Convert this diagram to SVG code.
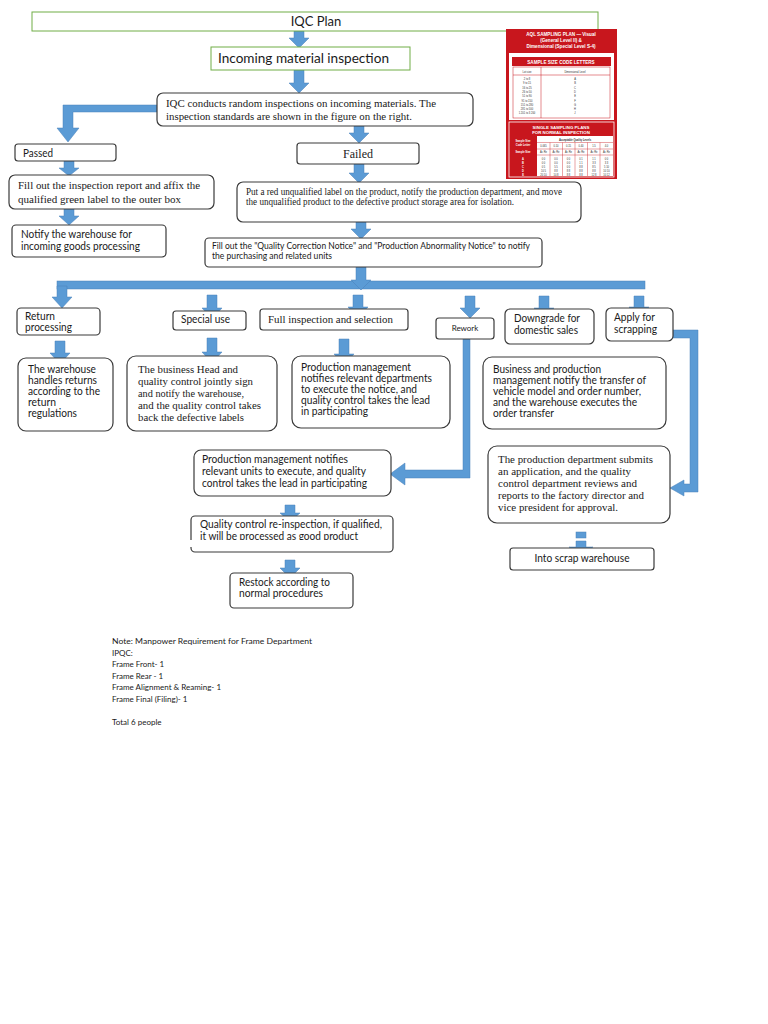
<svg xmlns="http://www.w3.org/2000/svg" width="768" height="1024" viewBox="0 0 768 1024">
<style>
.box{fill:#fff;stroke:#3a3a3a;stroke-width:1.2}
.gbox{fill:#fff;stroke:#70ad47;stroke-width:1}
.arr{fill:#5b9bd5;stroke:#4a80b8;stroke-width:0.5}
.s{font-family:Lato,"Open Sans","Liberation Sans",sans-serif;fill:#1a1a1a}
.r{font-family:"Liberation Serif",serif;fill:#1a1a1a}
.w{font-family:"Liberation Sans",Arial,sans-serif;fill:#fff;font-weight:bold;text-anchor:middle}
.t{font-family:"Liberation Sans",Arial,sans-serif;fill:#333;text-anchor:middle;font-size:2.6px}
</style>
<rect width="768" height="1024" fill="#fff"/>

<g id="connectors">
<polygon class="arr" points="294,31 304,31 304,38 309,38 299,48 289,38 294,38"/>
<polygon class="arr" points="294,70 304,70 304,83 309,83 299,93 289,83 294,83"/>
<polygon class="arr" points="157,105 63,105 63,128 57,128 68,142 79,128 73,128 73,112 157,112"/>
<polygon class="arr" points="354,126 364,126 364,133 369,133 359,143 349,133 354,133"/>
<polygon class="arr" points="64,161 74,161 74,168 79,168 69,176 59,168 64,168"/>
<polygon class="arr" points="64,209 74,209 74,216 79,216 69,225 59,216 64,216"/>
<polygon class="arr" points="354,164 364,164 364,173 369,173 359,183 349,173 354,173"/>
<polygon class="arr" points="356,222 366,222 366,229 371,229 361,239 351,229 356,229"/>
<rect class="arr" x="57" y="281" width="588" height="8"/>
<polygon class="arr" points="356,267 366,267 366,280 371,280 361,290 351,280 356,280"/>
<polygon class="arr" points="57,286 67,286 67,297 72,297 62,308 52,297 57,297"/>
<polygon class="arr" points="207,295 217,295 217,308 222,308 212,319 202,308 207,308"/>
<polygon class="arr" points="353,295 363,295 363,307 368,307 358,318 348,307 353,307"/>
<polygon class="arr" points="465,296 475,296 475,308 480,308 470,318 460,308 465,308"/>
<polygon class="arr" points="539,296 549,296 549,308 554,308 544,318 534,308 539,308"/>
<polygon class="arr" points="634,296 644,296 644,307 649,307 639,317 629,307 634,307"/>
<polygon class="arr" points="55,341 65,341 65,353 70,353 60,364 50,353 55,353"/>
<polygon class="arr" points="207,338 217,338 217,352 222,352 212,363 202,352 207,352"/>
<polygon class="arr" points="339,339 349,339 349,354 354,354 344,365 334,354 339,354"/>
<polygon class="arr" points="463,339 470,339 470,478 405,478 405,485 390,474 405,463 405,470 463,470"/>
<polygon class="arr" points="673,330 698,330 698,492 684,492 684,496 670,488 684,480 684,484 690,484 690,338 673,338"/>
<polygon class="arr" points="285,505 295,505 295,513 300,513 290,522 280,513 285,513"/>
<polygon class="arr" points="285,560 295,560 295,568 300,568 290,578 280,568 285,568"/>
<rect class="arr" x="576" y="532" width="10" height="6"/>
<polygon class="arr" points="576,541 586,541 586,547 593,547 581,556 569,547 576,547"/>
</g>

<g id="title">
<rect class="gbox" x="32" y="12" width="566" height="19"/>
<text class="s" x="316" y="26" font-size="13" text-anchor="middle">IQC Plan</text>
</g>
<g id="incoming">
<rect class="gbox" x="211" y="47" width="199" height="23"/>
<text class="s" x="218" y="63" font-size="14" textLength="171" lengthAdjust="spacingAndGlyphs">Incoming material inspection</text>
</g>
<g id="random-inspection">
<rect class="box" x="157" y="93" width="316" height="33" rx="6"/>
<text class="r" x="166" y="107" font-size="11" textLength="270" lengthAdjust="spacingAndGlyphs">IQC conducts random inspections on incoming materials. The</text>
<text class="r" x="166" y="120" font-size="11" textLength="246" lengthAdjust="spacingAndGlyphs">inspection standards are shown in the figure on the right.</text>
</g>
<g id="passed">
<rect class="box" x="15" y="144" width="101" height="17" rx="3"/>
<text class="s" x="23" y="157" font-size="10.5" textLength="30" lengthAdjust="spacingAndGlyphs">Passed</text>
</g>
<g id="failed">
<rect class="box" x="297" y="143" width="122" height="21" rx="3"/>
<text class="r" x="358" y="158" font-size="12" text-anchor="middle">Failed</text>
</g>
<g id="fill-report">
<rect class="box" x="9" y="175" width="205" height="34" rx="6"/>
<text class="r" x="18" y="189" font-size="11" textLength="182" lengthAdjust="spacingAndGlyphs">Fill out the inspection report and affix the</text>
<text class="r" x="18" y="203" font-size="11" textLength="163" lengthAdjust="spacingAndGlyphs">qualified green label to the outer box</text>
</g>
<g id="notify-warehouse">
<rect class="box" x="12" y="225" width="154" height="32" rx="4"/>
<text class="s" x="21" y="238" font-size="10.5" textLength="111" lengthAdjust="spacingAndGlyphs">Notify the warehouse for</text>
<text class="s" x="21" y="250" font-size="10.5" textLength="119" lengthAdjust="spacingAndGlyphs">incoming goods processing</text>
</g>
<g id="red-label">
<rect class="box" x="237" y="182" width="344" height="40" rx="6"/>
<text class="r" x="246" y="195" font-size="10" textLength="316" lengthAdjust="spacingAndGlyphs">Put a red unqualified label on the product, notify the production department, and move</text>
<text class="r" x="246" y="205" font-size="10" textLength="268" lengthAdjust="spacingAndGlyphs">the unqualified product to the defective product storage area for isolation.</text>
</g>
<g id="correction-notice">
<rect class="box" x="205" y="238" width="337" height="29" rx="4"/>
<text class="s" x="212" y="249" font-size="8.5" textLength="318" lengthAdjust="spacingAndGlyphs">Fill out the "Quality Correction Notice" and "Production Abnormality Notice" to notify</text>
<text class="s" x="212" y="259" font-size="8.5" textLength="120" lengthAdjust="spacingAndGlyphs">the purchasing and related units</text>
</g>
<g id="return-processing">
<rect class="box" x="17" y="308" width="83" height="27" rx="4"/>
<text class="s" x="25" y="320" font-size="10.5" textLength="30" lengthAdjust="spacingAndGlyphs">Return</text>
<text class="s" x="25" y="331" font-size="10.5" textLength="47" lengthAdjust="spacingAndGlyphs">processing</text>
</g>
<g id="special-use">
<rect class="box" x="173" y="311" width="73" height="19" rx="3"/>
<text class="s" x="181" y="323" font-size="10.5" textLength="49" lengthAdjust="spacingAndGlyphs">Special use</text>
</g>
<g id="full-inspection">
<rect class="box" x="260" y="309" width="148" height="21" rx="3"/>
<text class="r" x="268" y="323" font-size="11" textLength="125" lengthAdjust="spacingAndGlyphs">Full inspection and selection</text>
</g>
<g id="rework">
<rect class="box" x="436" y="318" width="58" height="21" rx="3"/>
<text class="s" x="465" y="331" font-size="8" text-anchor="middle">Rework</text>
</g>
<g id="downgrade">
<rect class="box" x="505" y="309" width="89" height="35" rx="5"/>
<text class="s" x="514" y="322" font-size="10.5" textLength="66" lengthAdjust="spacingAndGlyphs">Downgrade for</text>
<text class="s" x="514" y="334" font-size="10.5" textLength="64" lengthAdjust="spacingAndGlyphs">domestic sales</text>
</g>
<g id="apply-scrapping">
<rect class="box" x="606" y="308" width="67" height="33" rx="5"/>
<text class="s" x="614" y="321" font-size="10.5" textLength="41" lengthAdjust="spacingAndGlyphs">Apply for</text>
<text class="s" x="614" y="333" font-size="10.5" textLength="43" lengthAdjust="spacingAndGlyphs">scrapping</text>
</g>
<g id="warehouse-returns">
<rect class="box" x="18" y="358" width="95" height="73" rx="8"/>
<text class="s" x="28" y="373" font-size="10.5" textLength="68" lengthAdjust="spacingAndGlyphs">The warehouse</text>
<text class="s" x="28" y="384" font-size="10.5" textLength="69" lengthAdjust="spacingAndGlyphs">handles returns</text>
<text class="s" x="28" y="395" font-size="10.5" textLength="72" lengthAdjust="spacingAndGlyphs">according to the</text>
<text class="s" x="28" y="406" font-size="10.5" textLength="28" lengthAdjust="spacingAndGlyphs">return</text>
<text class="s" x="28" y="417" font-size="10.5" textLength="49" lengthAdjust="spacingAndGlyphs">regulations</text>
</g>
<g id="business-head">
<rect class="box" x="127" y="356" width="150" height="75" rx="9"/>
<text class="r" x="138" y="373" font-size="11" textLength="100" lengthAdjust="spacingAndGlyphs">The business Head and</text>
<text class="r" x="138" y="385" font-size="11" textLength="115" lengthAdjust="spacingAndGlyphs">quality control jointly sign</text>
<text class="r" x="138" y="397" font-size="11" textLength="106" lengthAdjust="spacingAndGlyphs">and notify the warehouse,</text>
<text class="r" x="138" y="409" font-size="11" textLength="123" lengthAdjust="spacingAndGlyphs">and the quality control takes</text>
<text class="r" x="138" y="421" font-size="11" textLength="106" lengthAdjust="spacingAndGlyphs">back the defective labels</text>
</g>
<g id="production-notice">
<rect class="box" x="292" y="356" width="158" height="72" rx="9"/>
<text class="s" x="301" y="371" font-size="10.5" textLength="110" lengthAdjust="spacingAndGlyphs">Production management</text>
<text class="s" x="301" y="382" font-size="10.5" textLength="131" lengthAdjust="spacingAndGlyphs">notifies relevant departments</text>
<text class="s" x="301" y="393" font-size="10.5" textLength="116" lengthAdjust="spacingAndGlyphs">to execute the notice, and</text>
<text class="s" x="301" y="404" font-size="10.5" textLength="129" lengthAdjust="spacingAndGlyphs">quality control takes the lead</text>
<text class="s" x="301" y="415" font-size="10.5" textLength="67" lengthAdjust="spacingAndGlyphs">in participating</text>
</g>
<g id="order-transfer">
<rect class="box" x="483" y="357" width="183" height="72" rx="9"/>
<text class="s" x="493" y="373" font-size="10.5" textLength="108" lengthAdjust="spacingAndGlyphs">Business and production</text>
<text class="s" x="493" y="384" font-size="10.5" textLength="153" lengthAdjust="spacingAndGlyphs">management notify the transfer of</text>
<text class="s" x="493" y="395" font-size="10.5" textLength="148" lengthAdjust="spacingAndGlyphs">vehicle model and order number,</text>
<text class="s" x="493" y="406" font-size="10.5" textLength="144" lengthAdjust="spacingAndGlyphs">and the warehouse executes the</text>
<text class="s" x="493" y="417" font-size="10.5" textLength="61" lengthAdjust="spacingAndGlyphs">order transfer</text>
</g>
<g id="rework-execute">
<rect class="box" x="194" y="450" width="197" height="46" rx="7"/>
<text class="s" x="202" y="463" font-size="10.5" textLength="146" lengthAdjust="spacingAndGlyphs">Production management notifies</text>
<text class="s" x="202" y="475" font-size="10.5" textLength="164" lengthAdjust="spacingAndGlyphs">relevant units to execute, and quality</text>
<text class="s" x="202" y="487" font-size="10.5" textLength="165" lengthAdjust="spacingAndGlyphs">control takes the lead in participating</text>
</g>
<g id="reinspection">
<rect class="box" x="191" y="516" width="202" height="36" rx="4"/>
<text class="s" x="200" y="528" font-size="10.5" textLength="182" lengthAdjust="spacingAndGlyphs">Quality control re-inspection, if qualified,</text>
<text class="s" x="200" y="539.5" font-size="10.5" textLength="158" lengthAdjust="spacingAndGlyphs">it will be processed as good product</text>
<rect x="189" y="540" width="203" height="7" fill="#fff"/>
</g>
<g id="restock">
<rect class="box" x="230" y="573" width="123" height="35" rx="4"/>
<text class="s" x="239" y="586" font-size="10.5" textLength="91" lengthAdjust="spacingAndGlyphs">Restock according to</text>
<text class="s" x="239" y="597" font-size="10.5" textLength="84" lengthAdjust="spacingAndGlyphs">normal procedures</text>
</g>
<g id="scrap-approval">
<rect class="box" x="488" y="446" width="182" height="77" rx="9"/>
<text class="r" x="498" y="463" font-size="11" textLength="155" lengthAdjust="spacingAndGlyphs">The production department submits</text>
<text class="r" x="498" y="475" font-size="11" textLength="133" lengthAdjust="spacingAndGlyphs">an application, and the quality</text>
<text class="r" x="498" y="487" font-size="11" textLength="139" lengthAdjust="spacingAndGlyphs">control department reviews and</text>
<text class="r" x="498" y="499" font-size="11" textLength="146" lengthAdjust="spacingAndGlyphs">reports to the factory director and</text>
<text class="r" x="498" y="511" font-size="11" textLength="120" lengthAdjust="spacingAndGlyphs">vice president for approval.</text>
</g>
<g id="scrap-warehouse">
<rect class="box" x="510" y="548" width="144" height="22" rx="3"/>
<text class="s" x="582" y="562" font-size="10.5" text-anchor="middle" textLength="95" lengthAdjust="spacingAndGlyphs">Into scrap warehouse</text>
</g>

<g id="note" class="s" font-size="8" fill="#333">
<text class="s" x="112" y="644" font-size="8" textLength="200" lengthAdjust="spacingAndGlyphs">Note: Manpower Requirement for Frame Department</text>
<text class="s" x="112" y="655.5" font-size="8">IPQC:</text>
<text class="s" x="112" y="667" font-size="8">Frame Front- 1</text>
<text class="s" x="112" y="678.5" font-size="8">Frame Rear - 1</text>
<text class="s" x="112" y="690" font-size="8">Frame Alignment &amp; Reaming- 1</text>
<text class="s" x="112" y="701.5" font-size="8">Frame Final (Filing)- 1</text>
<text class="s" x="112" y="724.5" font-size="8">Total 6 people</text>
</g>

<g id="aql-chart">
<rect x="506" y="29" width="111" height="150" fill="#c8161d"/>
<text class="w" x="561" y="36" font-size="4.6">AQL SAMPLING PLAN — Visual</text>
<text class="w" x="561" y="42" font-size="4.6">(General Level II) &amp;</text>
<text class="w" x="561" y="48" font-size="4.6">Dimensional (Special Level S-4)</text>
<rect x="509" y="53" width="105" height="67" fill="#fff"/>
<rect x="512" y="57" width="99" height="9" fill="#c8161d"/>
<text class="w" x="561" y="63.5" font-size="4.6">SAMPLE SIZE CODE LETTERS</text>
<rect x="513" y="67" width="97" height="51" fill="#fff" stroke="#c8161d" stroke-width="0.5"/>
<line x1="541" y1="67" x2="541" y2="118" stroke="#c8161d" stroke-width="0.5"/>
<line x1="513" y1="75" x2="610" y2="75" stroke="#c8161d" stroke-width="0.5"/>
<text class="t" x="527" y="73">Lot size</text>
<text class="t" x="575" y="73">Dimensional Level</text>
<text class="t" x="527" y="80">2 to 8</text>
<text class="t" x="527" y="84.3">9 to 15</text>
<text class="t" x="527" y="88.6">16 to 25</text>
<text class="t" x="527" y="92.9">26 to 50</text>
<text class="t" x="527" y="97.2">51 to 90</text>
<text class="t" x="527" y="101.5">91 to 150</text>
<text class="t" x="527" y="105.8">151 to 280</text>
<text class="t" x="527" y="110.1">281 to 500</text>
<text class="t" x="527" y="114.4">1 201 to 3 200</text>
<text class="t" x="575" y="80">A</text>
<text class="t" x="575" y="84.3">B</text>
<text class="t" x="575" y="88.6">C</text>
<text class="t" x="575" y="92.9">D</text>
<text class="t" x="575" y="97.2">E</text>
<text class="t" x="575" y="101.5">F</text>
<text class="t" x="575" y="105.8">G</text>
<text class="t" x="575" y="110.1">H</text>
<text class="t" x="575" y="114.4">J</text>
<rect x="509" y="122" width="105" height="55" fill="none" stroke="#fff" stroke-width="0.8"/>
<text class="w" x="561" y="129" font-size="4.4">SINGLE SAMPLING PLANS</text>
<text class="w" x="561" y="134" font-size="4.4">FOR NORMAL INSPECTION</text>
<rect x="537" y="136" width="76" height="40" fill="#fff"/>
<line x1="537" y1="142.5" x2="613" y2="142.5" stroke="#c8161d" stroke-width="0.4"/>
<line x1="537" y1="149" x2="613" y2="149" stroke="#c8161d" stroke-width="0.4"/>
<line x1="537" y1="155" x2="613" y2="155" stroke="#c8161d" stroke-width="0.4"/>
<line x1="550" y1="142.5" x2="550" y2="176" stroke="#c8161d" stroke-width="0.4"/>
<line x1="562.5" y1="142.5" x2="562.5" y2="176" stroke="#c8161d" stroke-width="0.4"/>
<line x1="575" y1="142.5" x2="575" y2="176" stroke="#c8161d" stroke-width="0.4"/>
<line x1="587.5" y1="142.5" x2="587.5" y2="176" stroke="#c8161d" stroke-width="0.4"/>
<line x1="600" y1="142.5" x2="600" y2="176" stroke="#c8161d" stroke-width="0.4"/>
<text class="w" x="523" y="142" font-size="2.6" font-weight="normal">Sample Size</text>
<text class="w" x="523" y="146" font-size="2.6" font-weight="normal">Code Letter</text>
<text class="w" x="523" y="153" font-size="2.6" font-weight="normal">Sample Size</text>
<text class="w" x="523" y="160" font-size="2.6">A</text>
<text class="w" x="523" y="164" font-size="2.6">B</text>
<text class="w" x="523" y="168" font-size="2.6">C</text>
<text class="w" x="523" y="172" font-size="2.6">D</text>
<text class="w" x="523" y="176" font-size="2.6">E</text>
<text class="t" x="575" y="141" font-weight="bold">Acceptable Quality Levels</text>
<text class="t" x="543.5" y="147">0.065</text>
<text class="t" x="556" y="147">0.10</text>
<text class="t" x="568.5" y="147">0.15</text>
<text class="t" x="581" y="147">0.40</text>
<text class="t" x="594" y="147">1.5</text>
<text class="t" x="606.5" y="147">4.0</text>
<text class="t" x="543.5" y="153">Ac  Re</text>
<text class="t" x="556" y="153">Ac  Re</text>
<text class="t" x="568.5" y="153">Ac  Re</text>
<text class="t" x="581" y="153">Ac  Re</text>
<text class="t" x="594" y="153">Ac  Re</text>
<text class="t" x="606.5" y="153">Ac  Re</text>
<text class="t" x="543.5" y="160">0  0</text><text class="t" x="556" y="160">0  0</text><text class="t" x="568.5" y="160">0  0</text><text class="t" x="581" y="160">0  1</text><text class="t" x="594" y="160">1  1</text><text class="t" x="606.5" y="160">0  0</text>
<text class="t" x="543.5" y="164">0  0</text><text class="t" x="556" y="164">0  0</text><text class="t" x="568.5" y="164">0  0</text><text class="t" x="581" y="164">1  1</text><text class="t" x="594" y="164">3  3</text><text class="t" x="606.5" y="164">3  3</text>
<text class="t" x="543.5" y="168">0  5</text><text class="t" x="556" y="168">5  5</text><text class="t" x="568.5" y="168">0  0</text><text class="t" x="581" y="168">8  8</text><text class="t" x="594" y="168">8  5</text><text class="t" x="606.5" y="168">5  10</text>
<text class="t" x="543.5" y="172">10  5</text><text class="t" x="556" y="172">8  8</text><text class="t" x="568.5" y="172">8  8</text><text class="t" x="581" y="172">8  8</text><text class="t" x="594" y="172">8  8</text><text class="t" x="606.5" y="172">10  10</text>
<text class="t" x="543.5" y="176">20  10</text><text class="t" x="556" y="176">10  8</text><text class="t" x="568.5" y="176">8  8</text><text class="t" x="581" y="176">8  8</text><text class="t" x="594" y="176">12  8</text><text class="t" x="606.5" y="176">10  12</text>
</g>
</svg>
